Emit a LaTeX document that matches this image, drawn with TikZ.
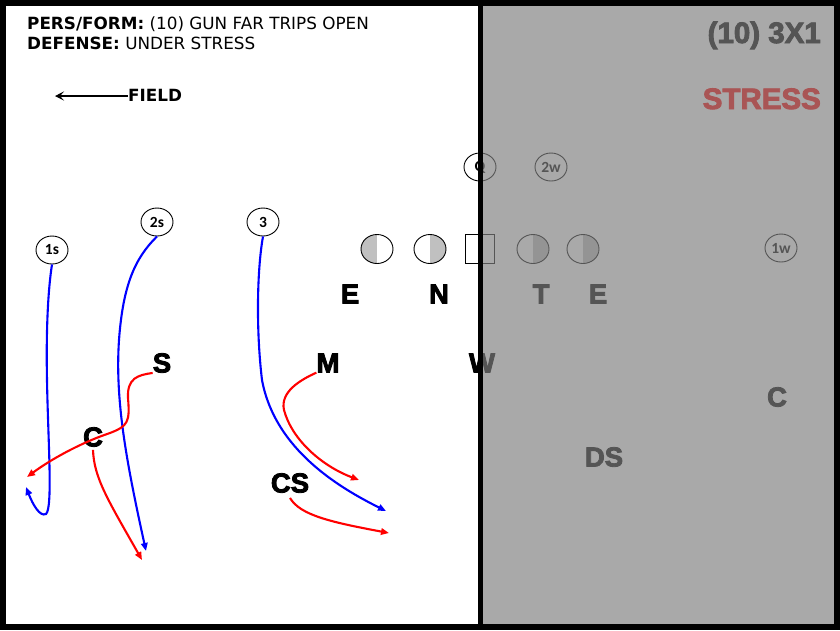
\documentclass[tikz,border=0pt]{standalone}
\usepackage{fontspec}
\setmainfont{DejaVu Sans}
\newfontfamily\arialfont[BoldFeatures={FakeBold=3}]{Liberation Sans}
\newfontfamily\labfont{Carlito}
\usepackage{tikz}
\usetikzlibrary{calc,arrows.meta}
\usetikzlibrary{shapes}
\definecolor{overlaygray}{RGB}{127,127,127}
\definecolor{halfgray}{RGB}{192,192,192}
\definecolor{routeblue}{RGB}{0,0,255}
\definecolor{routered}{RGB}{255,0,0}
\tikzset{
	player/.style={ellipse,draw,line width=0.9pt,fill=white,minimum width=32pt,minimum height=28pt,inner sep=0pt,font=\labfont\bfseries\fontsize{15.5}{15.5}\selectfont},
	lineman/.style={ellipse,draw,line width=0.9pt,fill=white,minimum width=32pt,minimum height=29pt,inner sep=0pt},
	grayleft/.style={lineman,path picture={\fill[halfgray] (path picture bounding box.south west) rectangle (path picture bounding box.north);}},
	grayright/.style={lineman,path picture={\fill[halfgray] (path picture bounding box.south) rectangle (path picture bounding box.north east);}},
	snapbox/.style={rectangle,draw,line width=0.9pt,fill=white,minimum width=29pt,minimum height=29pt,inner sep=0pt},
	defender/.style={font=\arialfont\bfseries\fontsize{27.5}{27.5}\selectfont,inner sep=0pt},
	blueroute/.style={draw=routeblue,line width=2.1pt,-{Triangle[length=8pt,width=6.5pt]}},
	redroute/.style={draw=routered,line width=2.1pt,-{Triangle[length=8pt,width=6.5pt]}},
	heading/.style={font=\fontsize{16.8}{19}\selectfont,inner sep=0pt},
	corner/.style={font=\arialfont\bfseries\fontsize{29.5}{29.5}\selectfont,inner sep=0pt,anchor=base east}
	}
\begin{document}
\begin{tikzpicture}[x=1pt,y=-1pt]
	\useasboundingbox (0,0) rectangle (840,630);
	\fill[white] (0,0) rectangle (840,630);

	% headings
	\node[heading,anchor=base west] (pers) at (27,29) {\textbf{PERS/FORM:} (10) GUN FAR TRIPS OPEN};
	\node[heading,anchor=base west] (dfn) at (27,49) {\textbf{DEFENSE:} UNDER STRESS};
	\node[heading,anchor=base west] (field) at (128,101) {\textbf{FIELD}};
	\coordinate (fieldtip) at (55,96);
	\draw[line width=1.8pt,-{Stealth[length=9pt,width=9pt,inset=4pt]}] (field.west |- fieldtip) -- (fieldtip);
	\node[corner] (pers10) at (821,43) {(10) 3X1};
	\node[corner,text=routered] (stress) at (821,109) {STRESS};

	% offense
	\node[player] (q) at (480,167) {Q};
	\node[player] (r2w) at (551,167) {2w};
	\node[grayleft] (lt) at (377,249) {};
	\node[grayright] (lg) at (430,249) {};
	\node[snapbox] (ctr) at (479.5,248.5) {};
	\node[grayright] (rg) at (533,249) {};
	\node[grayright] (rt) at (583,249) {};
	\node[player] (r1w) at (781,248) {1w};
	\node[player] (r1s) at (52,250) {1s};
	\node[player] (r2s) at (157,222) {2s};
	\node[player] (r3) at (263,222) {3};

	% defense
	\node[defender] (de1) at (350,294) {E};
	\node[defender] (nt) at (439,294) {N};
	\node[defender] (tk) at (541,294) {T};
	\node[defender] (de2) at (598,294) {E};
	\node[defender] (sam) at (162,363) {S};
	\node[defender] (mike) at (328,363) {M};
	\node[defender] (will) at (482,363) {W};
	\node[defender] (cbw) at (777,397) {C};
	\node[defender] (cbs) at (93,437) {C};
	\node[defender] (ds) at (604,457) {DS};
	\node[defender] (cs) at (290,483) {CS};

	% routes
	\coordinate (e1s) at (26,487);
	\coordinate (e2s) at (146,551);
	\coordinate (e3) at (386,511);
	\draw[blueroute] (r1s.south) .. controls (48,290) and (46,330) .. (47,380) .. controls (48,440) and (53,508) .. (46,514) .. controls (40,517) and (33,505) .. (e1s);
	\draw[blueroute] (r2s.south) .. controls (135,258) and (123,285) .. (119,340) .. controls (115,400) and (126,460) .. (e2s);
	\draw[blueroute] (r3.south) .. controls (257,270) and (256,330) .. (262,380) .. controls (275,450) and (340,488) .. (e3);

	% drops
	\coordinate (esam) at (27,477);
	\coordinate (ecbs) at (142,560);
	\coordinate (emike) at (359,480);
	\coordinate (ecs) at (389,533);
	\draw[redroute] (sam.south west) .. controls (138,375) and (127,378) .. (128,398) .. controls (130,422) and (128,426) .. (110,433) .. controls (80,443) and (50,460) .. (esam);
	\draw[redroute] ([yshift=-3pt]cbs.south) .. controls (94,478) and (108,500) .. (ecbs);
	\draw[redroute] (mike.south west) .. controls (300,380) and (280,392) .. (284,410) .. controls (292,440) and (322,466) .. (emike);
	\draw[redroute] ([yshift=-5pt]cs.south) .. controls (300,515) and (330,522) .. (ecs);

	% boundary side shaded
	\fill[overlaygray,fill opacity=0.67] (481,0) rectangle (840,630);
	\draw[line width=5.5pt] (480.5,0) -- (480.5,630);
	\draw[line width=6pt] (3,3) rectangle (837,627);
\end{tikzpicture}
\end{document}
